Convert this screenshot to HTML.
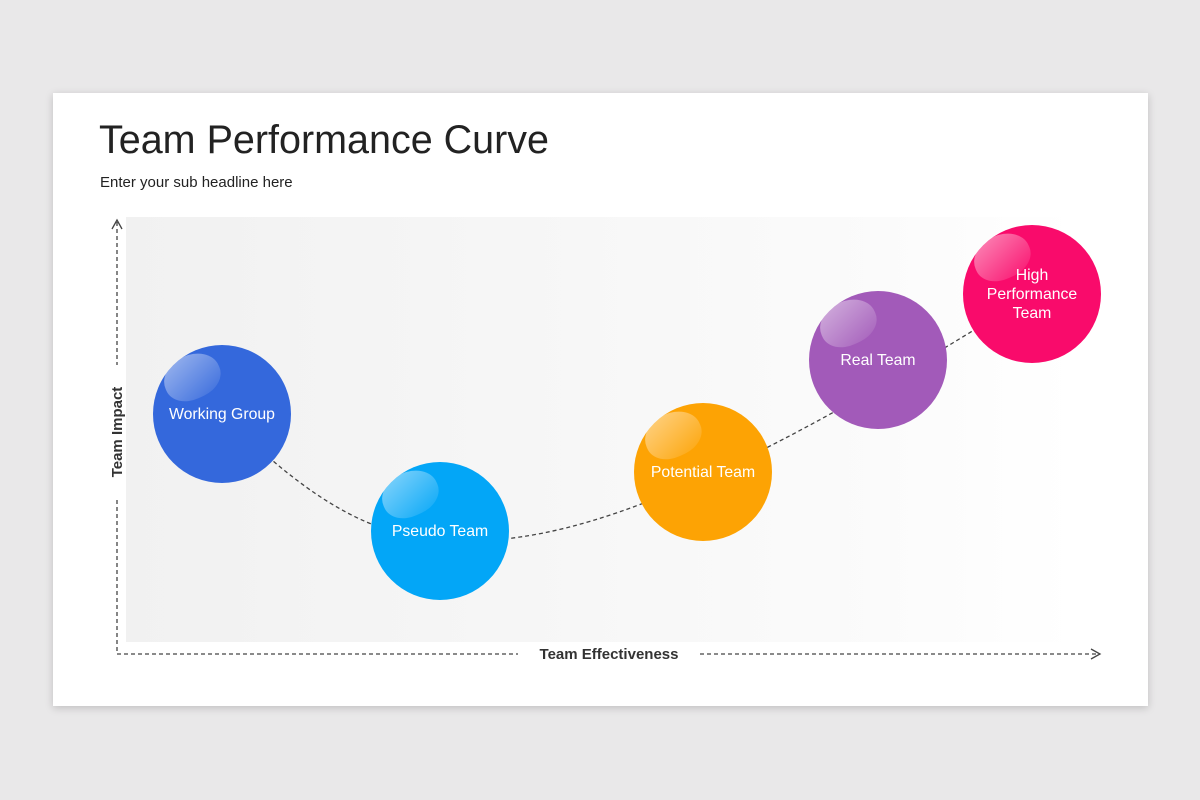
<!DOCTYPE html>
<html><head><style>
body{margin:0;width:1200px;height:800px;background:#e9e8e9;font-family:"Liberation Sans",sans-serif;position:relative;overflow:hidden}
.card{position:absolute;left:53px;top:93px;width:1095px;height:613px;background:#fff;box-shadow:0 2px 8px rgba(0,0,0,.18)}
h1{position:absolute;left:99px;top:118px;margin:0;font-weight:normal;font-size:39.5px;color:#222}
.sub{position:absolute;left:100px;top:174px;font-size:15px;color:#222}
.c{position:absolute;width:138px;height:138px;border-radius:50%;color:#fff;font-size:15.8px;display:flex;align-items:center;justify-content:center;text-align:center;line-height:19px;overflow:hidden}
.c::before{content:"";position:absolute;left:10px;top:10px;width:58px;height:44px;border-radius:50% 50% 45% 45%;background:linear-gradient(160deg,rgba(255,255,255,.5),rgba(255,255,255,.05));transform:rotate(-25deg)}
</style></head><body>
<div class="card"></div>
<h1>Team Performance Curve</h1>
<div class="sub">Enter your sub headline here</div>
<div style="position:absolute;left:126px;top:217px;width:949px;height:425px;background:linear-gradient(90deg,#f1f1f1,#fbfbfb 80%,#fff)"></div>
<svg width="1200" height="800" style="position:absolute;left:0;top:0">
<g stroke="#444" stroke-width="1.3" fill="none" stroke-dasharray="4,3">
<line x1="117" y1="222" x2="117" y2="365"/>
<line x1="117" y1="500" x2="117" y2="654"/>
<line x1="117" y1="654" x2="518" y2="654"/>
<line x1="700" y1="654" x2="1098" y2="654"/>
<path d="M222,414 C330,520 400,555 520,537 C640,520 800,440 1032,294"/>
</g>
<g stroke="#444" stroke-width="1.3" fill="none">
<path d="M112,229 L117,220 L122,229"/>
<path d="M1091,649 L1100,654 L1091,659"/>
</g>
<text x="122" y="432" transform="rotate(-90 122 432)" text-anchor="middle" font-size="15" font-weight="bold" fill="#333" font-family="Liberation Sans">Team Impact</text>
<text x="609" y="659" text-anchor="middle" font-size="15" font-weight="bold" fill="#333" font-family="Liberation Sans">Team Effectiveness</text>
</svg>
<div class="c" style="left:153px;top:345px;background:#3468dc">Working Group</div>
<div class="c" style="left:371px;top:462px;background:#03a6f7">Pseudo Team</div>
<div class="c" style="left:634px;top:403px;background:#fda304">Potential Team</div>
<div class="c" style="left:809px;top:291px;background:#a25ab9">Real Team</div>
<div class="c" style="left:963px;top:225px;background:#f90b6b">High<br>Performance<br>Team</div>
</body></html>
